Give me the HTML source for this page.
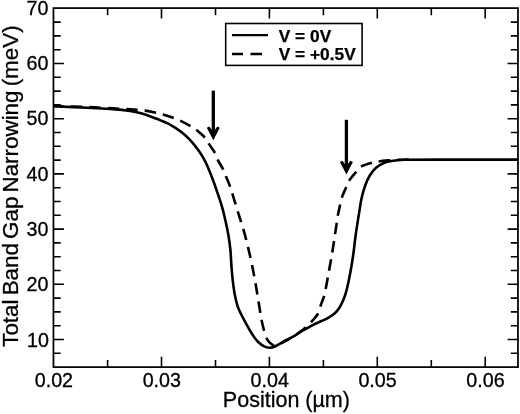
<!DOCTYPE html>
<html><head><meta charset="utf-8"><title>Total Band Gap Narrowing</title>
<style>
html,body{margin:0;padding:0;background:#fff;}
svg{display:block;font-family:"Liberation Sans",sans-serif;}
</style></head>
<body>
<svg width="520" height="414" viewBox="0 0 520 414">
<rect width="520" height="414" fill="#fff"/>
<rect x="53.45" y="8.1" width="464.5" height="359.0" fill="none" stroke="#000" stroke-width="1.75"/>
<path d="M53.5 353.3 h7.2 M518.0 353.3 h-7.2 M53.5 339.5 h10.4 M518.0 339.5 h-10.4 M53.5 325.7 h7.2 M518.0 325.7 h-7.2 M53.5 311.9 h7.2 M518.0 311.9 h-7.2 M53.5 298.1 h7.2 M518.0 298.1 h-7.2 M53.5 284.3 h10.4 M518.0 284.3 h-10.4 M53.5 270.5 h7.2 M518.0 270.5 h-7.2 M53.5 256.7 h7.2 M518.0 256.7 h-7.2 M53.5 242.9 h7.2 M518.0 242.9 h-7.2 M53.5 229.1 h10.4 M518.0 229.1 h-10.4 M53.5 215.3 h7.2 M518.0 215.3 h-7.2 M53.5 201.5 h7.2 M518.0 201.5 h-7.2 M53.5 187.7 h7.2 M518.0 187.7 h-7.2 M53.5 173.9 h10.4 M518.0 173.9 h-10.4 M53.5 160.1 h7.2 M518.0 160.1 h-7.2 M53.5 146.3 h7.2 M518.0 146.3 h-7.2 M53.5 132.5 h7.2 M518.0 132.5 h-7.2 M53.5 118.7 h10.4 M518.0 118.7 h-10.4 M53.5 104.9 h7.2 M518.0 104.9 h-7.2 M53.5 91.1 h7.2 M518.0 91.1 h-7.2 M53.5 77.3 h7.2 M518.0 77.3 h-7.2 M53.5 63.5 h10.4 M518.0 63.5 h-10.4 M53.5 49.7 h7.2 M518.0 49.7 h-7.2 M53.5 35.9 h7.2 M518.0 35.9 h-7.2 M53.5 22.1 h7.2 M518.0 22.1 h-7.2 M107.6 367.1 v-7.2 M107.6 8.1 v7.2 M161.5 367.1 v-10.4 M161.5 8.1 v10.4 M215.5 367.1 v-7.2 M215.5 8.1 v7.2 M269.4 367.1 v-10.4 M269.4 8.1 v10.4 M323.4 367.1 v-7.2 M323.4 8.1 v7.2 M377.3 367.1 v-10.4 M377.3 8.1 v10.4 M431.3 367.1 v-7.2 M431.3 8.1 v7.2 M485.2 367.1 v-10.4 M485.2 8.1 v10.4" stroke="#000" stroke-width="1.6" fill="none"/>
<g font-size="19.7" fill="#000" stroke="#000" stroke-width="0.3"><text x="49.0" y="346.7" text-anchor="end">10</text><text x="48.5" y="291.3" text-anchor="end">20</text><text x="48.5" y="236.0" text-anchor="end">30</text><text x="48.5" y="180.6" text-anchor="end">40</text><text x="48.5" y="125.3" text-anchor="end">50</text><text x="48.5" y="69.9" text-anchor="end">60</text><text x="48.5" y="14.6" text-anchor="end">70</text><text x="53.9" y="387.0" text-anchor="middle">0.02</text><text x="161.8" y="387.0" text-anchor="middle">0.03</text><text x="269.7" y="387.0" text-anchor="middle">0.04</text><text x="377.6" y="387.0" text-anchor="middle">0.05</text><text x="485.5" y="387.0" text-anchor="middle">0.06</text></g>
<text x="286.4" y="407" font-size="21.5" text-anchor="middle" fill="#000" stroke="#000" stroke-width="0.3">Position (µm)</text>
<text transform="translate(17.6 186.1) rotate(-90)" font-size="22.4" word-spacing="-2.1" text-anchor="middle" fill="#000" stroke="#000" stroke-width="0.3">Total Band Gap Narrowing (meV)</text>
<path d="M53.5 106.3 C59.1 106.5 77.7 107.3 87.6 107.8 C97.5 108.3 105.6 108.6 112.7 109.1 C119.8 109.6 125.5 110.3 130.0 111.0 C134.6 111.7 136.7 112.1 140.0 113.0 C143.3 113.9 146.7 115.1 150.0 116.3 C153.3 117.5 157.1 118.9 160.0 120.1 C162.9 121.3 165.1 122.0 167.7 123.3 C170.3 124.6 172.8 126.2 175.4 127.9 C178.0 129.6 180.6 131.4 183.2 133.6 C185.8 135.8 188.3 138.0 190.9 140.8 C193.5 143.6 196.3 147.3 198.6 150.6 C200.9 153.9 203.1 157.5 204.8 160.6 C206.5 163.7 207.3 165.9 208.6 168.9 C209.9 171.9 211.2 175.2 212.4 178.5 C213.6 181.8 214.5 184.0 216.0 188.5 C217.5 193.0 220.0 200.0 221.6 205.4 C223.2 210.8 224.3 215.8 225.5 220.9 C226.7 226.1 227.8 231.5 228.6 236.3 C229.4 241.2 229.9 245.2 230.4 250.0 C230.9 254.8 231.0 260.2 231.4 265.4 C231.8 270.5 232.2 276.0 232.8 280.9 C233.4 285.8 234.0 290.7 234.8 294.8 C235.6 298.9 236.5 302.6 237.4 305.6 C238.3 308.6 239.0 310.0 240.5 313.0 C242.0 316.0 244.2 320.2 246.2 323.8 C248.2 327.4 250.3 331.5 252.4 334.6 C254.5 337.7 256.4 340.3 258.5 342.3 C260.6 344.3 262.8 345.8 264.7 346.7 C266.6 347.6 268.3 347.8 270.1 347.7 C271.9 347.6 273.3 347.1 275.5 346.2 C277.7 345.2 280.4 343.6 283.2 342.0 C286.0 340.4 289.4 338.7 292.5 336.9 C295.6 335.1 298.4 333.2 301.8 331.2 C305.2 329.2 310.0 326.4 313.2 324.8 C316.4 323.2 318.3 322.5 320.9 321.3 C323.5 320.1 326.3 319.0 328.6 317.6 C330.9 316.2 333.0 314.8 334.8 313.2 C336.6 311.6 338.0 310.0 339.4 307.8 C340.8 305.6 342.1 302.9 343.3 300.1 C344.5 297.3 345.5 294.0 346.4 290.8 C347.3 287.6 348.0 284.2 348.7 280.8 C349.4 277.4 349.9 274.9 350.7 270.5 C351.5 266.1 352.5 260.1 353.3 254.3 C354.1 248.5 354.8 241.5 355.6 235.8 C356.4 230.2 357.2 224.6 357.9 220.4 C358.5 216.2 358.9 214.0 359.5 210.5 C360.1 207.0 360.4 203.6 361.3 199.4 C362.2 195.2 363.8 189.5 365.2 185.5 C366.6 181.5 368.0 178.4 369.8 175.5 C371.6 172.6 373.7 169.9 376.0 167.8 C378.3 165.7 380.9 164.3 383.7 163.1 C386.5 161.9 389.4 161.4 393.0 160.8 C396.6 160.2 397.2 160.0 405.0 159.8 C412.8 159.6 421.2 159.6 440.0 159.6 C458.8 159.6 505.0 159.6 518.0 159.6" stroke="#000" stroke-width="2.6" fill="none" stroke-linejoin="round"/>
<path d="M53.5 105.9 C59.1 106.1 77.7 106.6 87.6 107.0 C97.5 107.4 106.1 108.1 112.7 108.4 C119.3 108.8 122.8 108.8 127.0 109.1 C131.2 109.3 135.0 109.7 138.0 109.9 C141.0 110.2 141.8 110.1 145.0 110.6 C148.2 111.1 154.0 112.4 157.0 113.0 C160.0 113.6 160.2 113.6 163.0 114.4 C165.8 115.2 171.2 117.0 174.0 118.0 C176.8 119.0 177.2 119.2 180.0 120.6 C182.8 122.0 188.3 124.9 191.0 126.4 C193.7 127.9 193.7 127.7 196.0 129.6 C198.3 131.5 202.8 135.3 205.0 137.7 C207.2 140.1 207.2 141.3 208.9 143.9 C210.6 146.5 213.6 150.5 215.1 153.2 C216.6 155.9 216.5 157.3 217.9 160.1 C219.3 162.9 222.3 167.5 223.6 170.2 C224.9 172.9 224.8 173.5 225.9 176.3 C227.0 179.1 229.1 183.9 230.2 186.8 C231.3 189.7 231.1 189.8 232.4 193.9 C233.7 198.0 236.0 205.7 237.8 211.6 C239.6 217.5 241.7 223.5 243.4 229.4 C245.1 235.3 246.6 241.2 248.0 247.1 C249.4 253.0 250.8 258.7 252.0 264.7 C253.2 270.7 254.4 277.1 255.5 283.2 C256.6 289.3 257.5 295.5 258.5 301.5 C259.5 307.5 260.5 314.4 261.4 319.2 C262.3 323.9 263.1 326.9 263.9 330.0 C264.7 333.1 265.4 335.7 266.3 337.7 C267.2 339.7 268.1 340.9 269.2 342.1 C270.2 343.3 271.5 344.2 272.6 344.8 C273.7 345.4 274.9 345.9 276.0 345.8 C277.1 345.7 278.2 344.8 279.4 344.2 C280.6 343.6 281.0 343.2 283.2 342.0 C285.4 340.8 289.9 338.5 292.5 336.9 C295.1 335.3 297.2 333.9 299.0 332.6 C300.8 331.3 302.3 330.1 303.5 329.2 C304.7 328.2 305.1 328.0 306.3 326.9 C307.5 325.8 308.9 324.6 310.8 322.5 C312.7 320.4 316.2 316.7 317.8 314.0 C319.4 311.3 319.4 309.2 320.4 306.3 C321.4 303.4 323.1 299.1 324.0 296.3 C324.9 293.5 325.0 292.3 325.6 289.3 C326.2 286.3 327.1 281.5 327.6 278.5 C328.2 275.5 328.3 274.4 328.9 271.4 C329.4 268.4 330.3 263.6 330.9 260.5 C331.4 257.4 331.7 255.9 332.2 252.8 C332.7 249.7 333.4 245.1 333.9 242.0 C334.4 238.9 334.5 237.4 335.0 234.3 C335.5 231.2 336.2 226.6 336.7 223.4 C337.2 220.2 337.3 218.1 337.9 215.0 C338.5 211.9 339.4 208.1 340.1 205.0 C340.8 201.9 341.2 199.4 342.3 196.3 C343.4 193.2 345.5 188.9 346.6 186.3 C347.7 183.7 347.5 183.1 348.9 180.9 C350.3 178.7 353.2 175.5 355.1 173.2 C357.0 170.9 357.9 168.7 360.5 167.0 C363.1 165.3 367.8 164.0 370.6 163.1 C373.4 162.2 374.6 162.0 377.5 161.6 C380.4 161.2 385.3 160.7 388.3 160.4 C391.3 160.1 391.6 160.1 395.3 160.0 C399.0 159.9 407.9 159.7 410.4 159.6" stroke="#000" stroke-width="2.6" fill="none" stroke-dasharray="11.4 7.14" stroke-dashoffset="1.35" stroke-linejoin="round"/>
<path d="M213.3 90.6 V133.3" stroke="#000" stroke-width="3.3" fill="none"/><path d="M213.3 140.3 L206.8 127.7 L209.4 126.5 L213.3 132.0 L217.2 126.5 L219.8 127.7 Z" fill="#000"/>
<path d="M346.4 119.8 V167.6" stroke="#000" stroke-width="3.3" fill="none"/><path d="M346.4 174.6 L339.9 162.0 L342.5 160.8 L346.4 166.3 L350.3 160.8 L352.9 162.0 Z" fill="#000"/>
<rect x="225.7" y="23.5" width="136.4" height="41.9" fill="#fff" stroke="#000" stroke-width="1.6"/>
<path d="M232 35.1 H268" stroke="#000" stroke-width="2.3"/>
<path d="M232 54 H243 M250.5 54 H262" stroke="#000" stroke-width="2.3"/>
<g font-size="17.3" font-weight="bold" fill="#000" stroke="#000" stroke-width="0.25"><text x="278.8" y="41.6">V = 0V</text><text x="278.8" y="60.1">V = +0.5V</text></g>
</svg>
</body></html>
